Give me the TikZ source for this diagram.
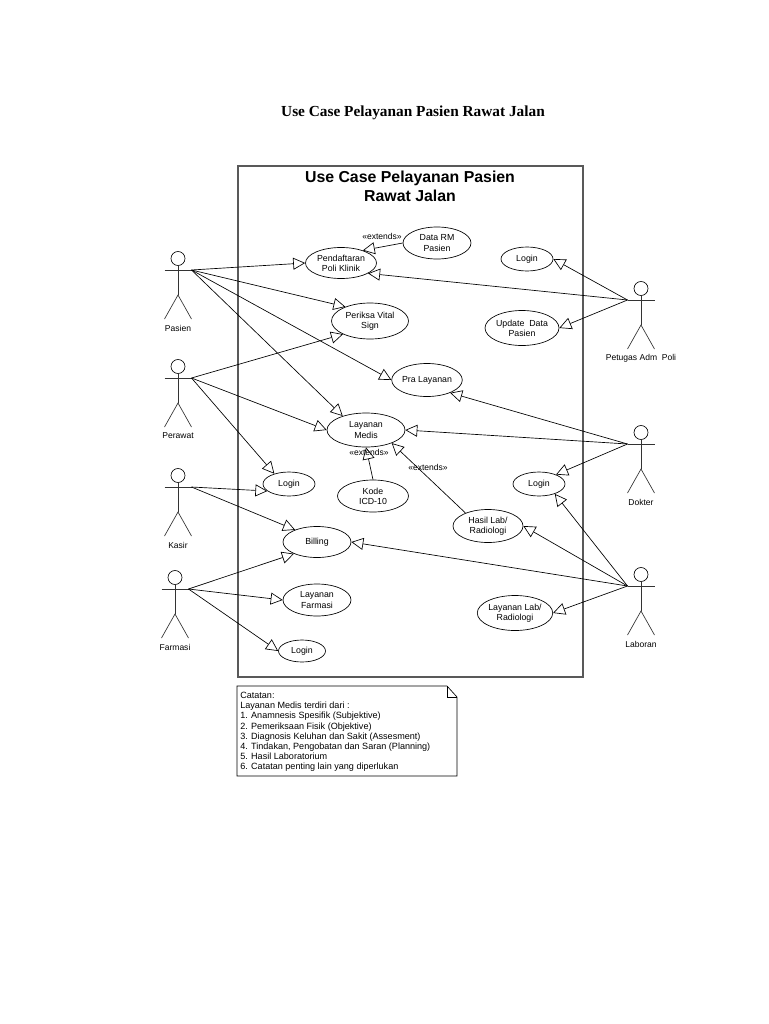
\documentclass[tikz,border=0pt]{standalone}
\usepackage{fontspec}
\setmainfont{Liberation Sans}
\newfontfamily\titlefont{Liberation Serif}
\usetikzlibrary{shapes.geometric,arrows.meta}
\tikzset{
  usecase/.style 2 args={ellipse,draw,line width=0.5pt,inner sep=0pt,align=center,
    font=\fontsize{6.6}{7.7}\selectfont,minimum width=#1*0.75pt,minimum height=#2*0.75pt},
  limb/.style={line width=0.5pt,color=black!80},
  actorhead/.style={circle,draw,line width=0.5pt,inner sep=0pt,minimum size=10.5pt},
  actorname/.style={font=\fontsize{6.4}{8}\selectfont,inner sep=0pt},
  assoc/.style={line width=0.5pt,-{Triangle[open,length=9pt,width=9pt,fill=white]}},
  stereotype/.style={font=\fontsize{6.4}{7}\selectfont,inner sep=0pt},
}
\begin{document}
\begin{tikzpicture}[x=0.75pt,y=0.75pt,yscale=-1,xscale=1]
\useasboundingbox (0,0) rectangle (768,1024);

% page title
\node (pagetitle) at (413,113) {\titlefont\bfseries\fontsize{11.5}{14}\selectfont Use Case Pelayanan Pasien Rawat Jalan};

% system box
\node (sistem) [draw=black!65,line width=1.4pt,anchor=north west,inner sep=0pt,minimum width=258.75pt,minimum height=383.25pt] at (237,165) {};
\node (judul) [align=center,inner sep=0pt,font=\bfseries\fontsize{11.9}{14.3}\selectfont] at (410,186) {Use Case Pelayanan Pasien\\Rawat Jalan};

% use cases
\node (pendaftaran) [usecase={71}{31}] at (341,263) {Pendaftaran\\Poli Klinik};
\node (datarm) [usecase={68}{32}] at (437,243) {Data RM\\Pasien};
\node (loginpoli) [usecase={52}{24}] at (527,259) {Login};
\node (update) [usecase={74}{35}] at (522,328) {Update~ Data\\Pasien};
\node (periksa) [usecase={77}{36}] at (370,321) {Periksa Vital\\Sign};
\node (pra) [usecase={70}{33}] at (427,380) {Pra Layanan};
\node (medis) [usecase={78}{34}] at (366,430) {Layanan\\Medis};
\node (kode) [usecase={71}{32}] at (373,496) {Kode\\ICD-10};
\node (loginkiri) [usecase={52}{24}] at (289,484) {Login};
\node (billing) [usecase={68}{31}] at (317,542) {Billing};
\node (farmasi) [usecase={68}{32}] at (317,600) {Layanan\\Farmasi};
\node (loginfarmasi) [usecase={47}{22}] at (302,651) {Login};
\node (logindokter) [usecase={52}{24}] at (539,484) {Login};
\node (hasil) [usecase={70}{33}] at (488,526) {Hasil Lab/\\Radiologi};
\node (lablayanan) [usecase={74}{35}] at (515,613) {Layanan Lab/\\Radiologi};

% actors
\foreach \actid/\ax/\ay/\actlabel in {pasien/178/270/Pasien,perawat/178/378/Perawat,kasir/178/487/Kasir,
    farmasiact/175/589/Farmasi,petugas/641/300/Petugas Adm~ Poli,dokter/641/444/Dokter,laboran/641/586/Laboran}{
  \node (\actid head) [actorhead] at (\ax,\ay-11.5) {};
  \coordinate (\actid left) at (\ax-13.5,\ay);
  \coordinate (\actid right) at (\ax+13.5,\ay);
  \coordinate (\actid hip) at (\ax,\ay+25);
  \coordinate (\actid footl) at (\ax-13.5,\ay+49);
  \coordinate (\actid footr) at (\ax+13.5,\ay+49);
  \draw [limb] (\actid head) -- (\actid hip);
  \draw [limb] (\actid left) -- (\actid right);
  \draw [limb] (\actid footl) -- (\actid hip) -- (\actid footr);
  \node (\actid name) [actorname] at (\ax,\ay+58) {\actlabel};
}

% left side associations
\draw [assoc] (pasienright) -- (pendaftaran.west);
\draw [assoc] (pasienright) -- (periksa.150);
\draw [assoc] (pasienright) -- (pra.west);
\draw [assoc] (pasienright) -- (medis.149);
\draw [assoc] (perawatright) -- (periksa.206);
\draw [assoc] (perawatright) -- (medis.west);
\draw [assoc] (perawatright) -- (loginkiri.145);
\draw [assoc] (kasirright) -- (loginkiri.198);
\draw [assoc] (kasirright) -- (billing.151);
\draw [assoc] (farmasiactright) -- (billing.207);
\draw [assoc] (farmasiactright) -- (farmasi.west);
\draw [assoc] (farmasiactright) -- (loginfarmasi.west);

% right side associations
\draw [assoc] (petugasleft) -- (pendaftaran.339);
\draw [assoc] (petugasleft) -- (loginpoli.east);
\draw [assoc] (petugasleft) -- (update.east);
\draw [assoc] (dokterleft) -- (pra.331);
\draw [assoc] (dokterleft) -- (medis.east);
\draw [assoc] (dokterleft) -- (logindokter.29);
\draw [assoc] (laboranleft) -- (logindokter.328);
\draw [assoc] (laboranleft) -- (hasil.east);
\draw [assoc] (laboranleft) -- (billing.east);
\draw [assoc] (laboranleft) -- (lablayanan.east);

% extends
\draw [assoc] (datarm.west) -- (pendaftaran.30);
\draw [assoc] (kode.north) -- (medis.south);
\draw [assoc] (hasil.150) -- (medis.333);
\node (extrm) [stereotype] at (382,236) {«extends»};
\node (extkode) [stereotype] at (369,452) {«extends»};
\node (exthasil) [stereotype] at (428,467) {«extends»};

% note
\coordinate (notenw) at (237,686);
\coordinate (notefold) at (447,686);
\coordinate (noteinner) at (447,697);
\coordinate (noteside) at (457,697);
\coordinate (notese) at (457,776);
\coordinate (notesw) at (237,776);
\draw [line width=0.5pt] (notenw) -- (notefold) -- (noteside) -- (notese) -- (notesw) -- cycle;
\draw [line width=0.5pt] (notefold) -- (noteinner) -- (noteside);
\node (catatan) [anchor=north west,inner sep=0pt,align=left,font=\fontsize{6.8}{7.6}\selectfont] at (240,692) {Catatan:\\
Layanan Medis terdiri dari :\\
1. Anamnesis Spesifik (Subjektive)\\
2. Pemeriksaan Fisik (Objektive)\\
3. Diagnosis Keluhan dan Sakit (Assesment)\\
4. Tindakan, Pengobatan dan Saran (Planning)\\
5. Hasil Laboratorium\\
6. Catatan penting lain yang diperlukan};

\end{tikzpicture}
\end{document}
